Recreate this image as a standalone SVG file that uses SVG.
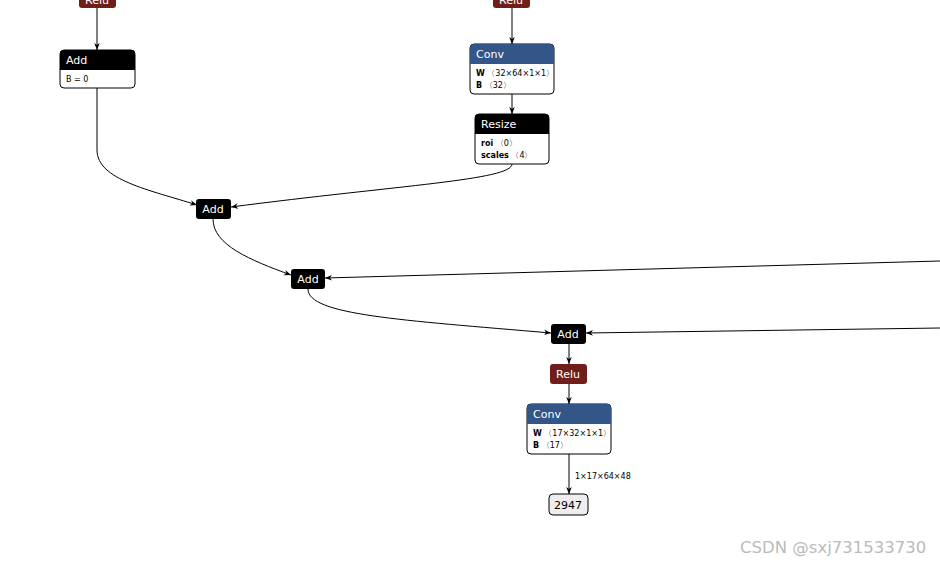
<svg xmlns="http://www.w3.org/2000/svg" width="940" height="566" viewBox="0 0 940 566">
<style>
text{font-family:"DejaVu Sans","Noto Sans",sans-serif}
.h{fill:#fff;font-size:11px}
.a{font-size:8px;fill:#000}
.b{font-weight:bold}
.e{fill:none;stroke:#000;stroke-width:1}
.bx{fill:#fff;stroke:#000;stroke-width:1}
</style>
<defs><marker id="ar" viewBox="0 0 10 10" refX="10" refY="5" markerWidth="7" markerHeight="7" orient="auto"><path d="M0,1 L10,5 L0,9 L3,5z" fill="#000"/></marker></defs>
<rect width="940" height="566" fill="#fff"/>
<g id="edges">
<path class="e" marker-end="url(#ar)" d="M97,8 V50"/>
<path class="e" marker-end="url(#ar)" d="M512,8 V44"/>
<path class="e" marker-end="url(#ar)" d="M512,94 V114"/>
<path class="e" marker-end="url(#ar)" d="M97,88 V150 C97,180 150,190 197,205"/>
<path class="e" marker-end="url(#ar)" d="M512,164 C512,180 400,185 231,207"/>
<path class="e" marker-end="url(#ar)" d="M213,219 C213,245 250,260 291,275"/>
<path class="e" marker-end="url(#ar)" d="M940,261 L325,278"/>
<path class="e" marker-end="url(#ar)" d="M308,289 C308,315 400,320 551,333"/>
<path class="e" marker-end="url(#ar)" d="M940,328 L586,333"/>
<path class="e" marker-end="url(#ar)" d="M569,344 V364"/>
<path class="e" marker-end="url(#ar)" d="M569,384 V404"/>
<path class="e" marker-end="url(#ar)" d="M569,454 V494"/>
<text class="a" x="575" y="479">1×17×64×48</text>
</g>
<g id="relu1"><rect x="79" y="-12" width="37" height="20" rx="3" fill="#6f1e1a"/><text class="h" x="97" y="4" text-anchor="middle">Relu</text></g>
<g id="relu2"><rect x="493" y="-12" width="37" height="20" rx="3" fill="#6f1e1a"/><text class="h" x="511" y="4" text-anchor="middle">Relu</text></g>
<g id="add1"><rect class="bx" x="60" y="50" width="75" height="38" rx="4"/><path d="M60,70 V54 a4,4 0 0 1 4,-4 H131 a4,4 0 0 1 4,4 V70z" fill="#000"/><text class="h" x="66" y="64">Add</text><text class="a" x="66" y="82">B = 0</text></g>
<g id="conv1"><rect class="bx" x="470" y="44" width="84" height="50" rx="4"/><path d="M470,64 V48 a4,4 0 0 1 4,-4 H550 a4,4 0 0 1 4,4 V64z" fill="#335588"/><text class="h" x="476" y="58">Conv</text><text class="a" x="476" y="76"><tspan class="b">W</tspan> 〈32×64×1×1〉</text><text class="a" x="476" y="88"><tspan class="b">B</tspan> 〈32〉</text></g>
<g id="resize"><rect class="bx" x="475" y="114" width="74" height="50" rx="4"/><path d="M475,134 V118 a4,4 0 0 1 4,-4 H545 a4,4 0 0 1 4,4 V134z" fill="#000"/><text class="h" x="481" y="128">Resize</text><text class="a" x="481" y="146"><tspan class="b">roi</tspan> 〈0〉</text><text class="a" x="481" y="158"><tspan class="b">scales</tspan> 〈4〉</text></g>
<g id="add2"><rect x="196" y="199" width="35" height="20" rx="3" fill="#000"/><text class="h" x="213" y="213" text-anchor="middle">Add</text></g>
<g id="add3"><rect x="291" y="269" width="34" height="20" rx="3" fill="#000"/><text class="h" x="308" y="283" text-anchor="middle">Add</text></g>
<g id="add4"><rect x="551" y="324" width="35" height="20" rx="3" fill="#000"/><text class="h" x="568" y="338" text-anchor="middle">Add</text></g>
<g id="relu3"><rect x="550" y="364" width="37" height="20" rx="3" fill="#6f1e1a"/><text class="h" x="568" y="378" text-anchor="middle">Relu</text></g>
<g id="conv2"><rect class="bx" x="527" y="404" width="84" height="50" rx="4"/><path d="M527,424 V408 a4,4 0 0 1 4,-4 H607 a4,4 0 0 1 4,4 V424z" fill="#335588"/><text class="h" x="533" y="418">Conv</text><text class="a" x="533" y="436"><tspan class="b">W</tspan> 〈17×32×1×1〉</text><text class="a" x="533" y="448"><tspan class="b">B</tspan> 〈17〉</text></g>
<g id="out"><rect x="549" y="494" width="39" height="21" rx="4" fill="#eee" stroke="#000"/><text x="568" y="509" text-anchor="middle" font-size="11">2947</text></g>
<text x="740" y="553" font-size="16.5" fill="#bbb" font-family="Liberation Sans,sans-serif">CSDN @sxj731533730</text>
</svg>
